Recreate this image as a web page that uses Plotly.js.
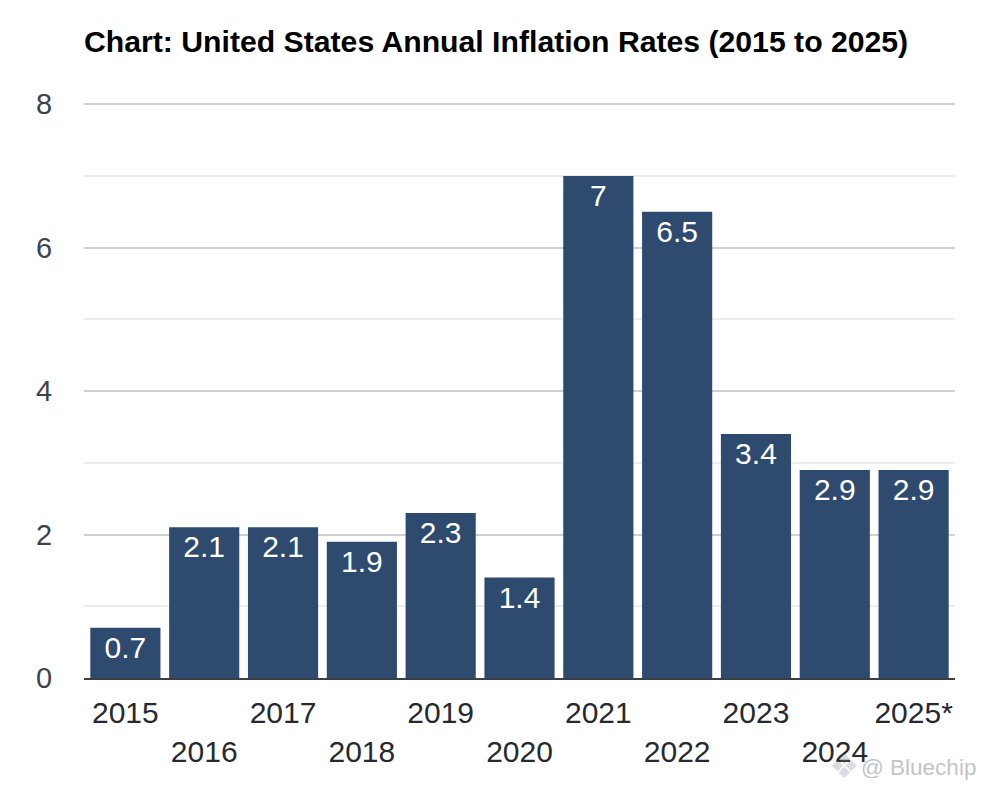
<!DOCTYPE html>
<html><head><meta charset="utf-8"><script src="https://cdn.plot.ly/plotly-3.0.1.min.js"></script>
<style>html,body{margin:0;padding:0;background:#fff}</style></head><body><div id="c" style="width:986px;height:792px"></div>
<script>
const years=["2015","2016","2017","2018","2019","2020","2021","2022","2023","2024","2025*"];
const rates=[0.7,2.1,2.1,1.9,2.3,1.4,7,6.5,3.4,2.9,2.9];
const stagger=[0,1,0,1,0,1,0,1,0,1,0];
const labels=years.map((y,i)=>stagger[i]?"<br>"+y:y);
const font="Liberation Sans, Arial, sans-serif";
Plotly.newPlot("c",[{type:"bar",x:years,y:rates,text:rates.map(String),textposition:"inside",insidetextanchor:"end",
 textangle:0,insidetextfont:{color:"#fff",size:30,family:font},constraintext:"none",
 marker:{color:"#2e4a6f"},cliponaxis:false,hoverinfo:"none"}],
{width:986,height:792,margin:{l:84,r:31,t:102,b:114},paper_bgcolor:"#fff",plot_bgcolor:"#fff",bargap:0.11,showlegend:false,
 title:{text:"<b>Chart: United States Annual Inflation Rates (2015 to 2025)</b>",x:84/986,xanchor:"left",y:0.948,yanchor:"middle",font:{family:font,size:30.2,color:"#000"}},
 xaxis:{type:"category",range:[-0.525,10.525],tickmode:"array",tickvals:years,ticktext:labels,tickangle:0,showgrid:false,showline:true,linecolor:"#3a3f47",linewidth:2,ticks:"outside",ticklen:7,tickcolor:"rgba(0,0,0,0)",automargin:false,
  tickfont:{family:font,size:30,color:"#262a30"}},
 yaxis:{range:[0,8.03],tickmode:"array",tickvals:[0,2,4,6,8],showgrid:true,gridcolor:"#cdd0d4",gridwidth:2,zeroline:false,ticks:"outside",ticklen:25,tickcolor:"rgba(0,0,0,0)",automargin:false,
  minor:{tickmode:"array",tickvals:[1,3,5,7],showgrid:true,gridcolor:"#ebedef",gridwidth:2,ticks:""},
  tickfont:{family:font,size:29,color:"#3c4350"}},
 annotations:[
  {text:"@ Bluechip",xref:"paper",yref:"paper",x:(978-84)/871,y:0,xanchor:"right",yanchor:"top",showarrow:false,font:{family:font,size:22.5,color:"rgba(130,135,145,0.5)"},yshift:-75},
  {text:"❖",xref:"paper",yref:"paper",x:(844-84)/871,y:0,xanchor:"center",yanchor:"top",showarrow:false,font:{family:"DejaVu Sans",size:34,color:"rgba(130,135,145,0.3)"},yshift:-66}
 ]
},{displayModeBar:false,staticPlot:true});
</script></body></html>
